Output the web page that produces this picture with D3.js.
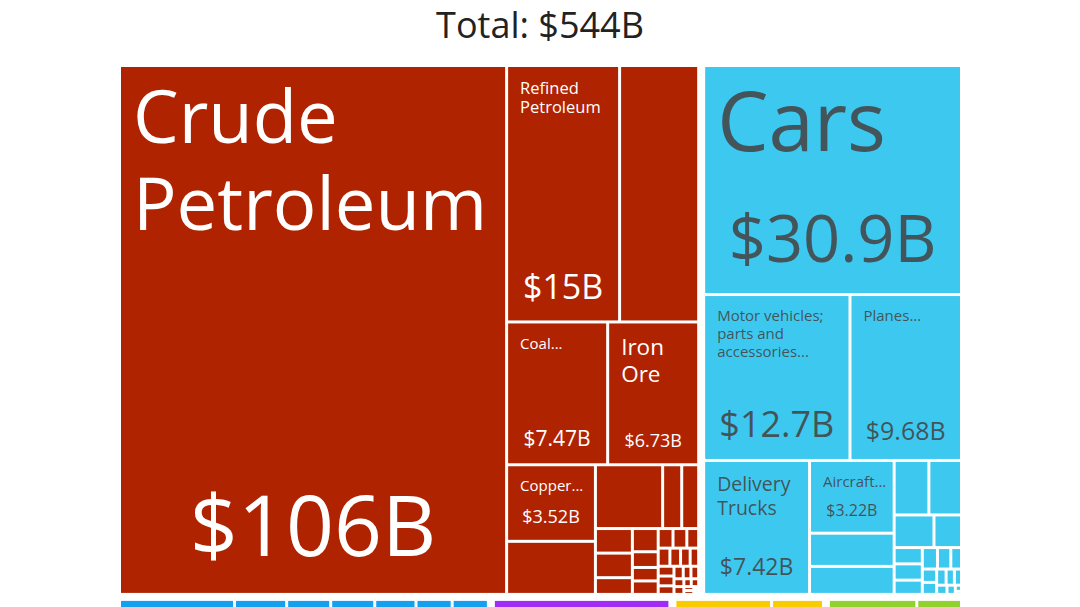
<!DOCTYPE html>
<html>
<head>
<meta charset="utf-8">
<script src="https://cdn.jsdelivr.net/npm/d3@7"></script>
<style>
html,body{margin:0;padding:0;background:#fff;overflow:hidden}
svg{display:block;font-family:"Open Sans",sans-serif}
</style>
</head>
<body>
<svg id="chart" width="1080" height="607"></svg>
<script>
// ---------------- DATA (US$ billions) ----------------
const sections = ["Mineral Products","Transportation","Machines","Metals","Wood Products",
  "Chemical Products","Precious Metals","Vegetable Products","Plastics and Rubbers","Foodstuffs",
  "Animal Products","Paper Goods","Instruments","Miscellaneous","Stone And Glass",
  "Animal and Vegetable Bi-Products","Footwear and Headwear","Textiles"];

const minerals = [
  ["Crude Petroleum",106],["Refined Petroleum",15],["Petroleum Gas",10.5],["Coal Briquettes",7.47],
  ["Iron Ore",6.73],["Copper Ore",3.52],["Zinc Ore",2.44],["Electricity",2.22],["Petroleum Coke",0.63],
  ["Molybdenum Ore",0.56],["Nickel Ore",0.47],["Uranium and Thorium Ore",0.47],["Precious Metal Ore",0.32],
  ["Lead Ore",0.31],["Salt",0.21],["Gypsum",0.18],["Sulphur",0.18],["Petroleum Jelly",0.15],["Tar Oils",0.14],
  ["Aluminium Ore",0.12],["Niobium, Tantalum, Vanadium and Zirconium Ore",0.11],["Gravel and Crushed Stone",0.1],
  ["Sand",0.09],["Asphalt Mixtures",0.08],["Clays",0.08],["Bitumen",0.08],["Cobalt Ore",0.07],
  ["Manganese Ore",0.06],["Chromium Ore",0.05],["Tungsten Ore",0.05],["Limestone",0.04],["Quartz",0.04],
  ["Mica",0.03],["Graphite",0.03],["Coke",0.02],["Peat",0.02],["Slate",0.01],["Pumice",0.01]
];
const transportation = [
  ["Cars",30.9],["Motor vehicles; parts and accessories (8701 to 8705)",12.7],
  ["Planes, Helicopters, and/or Spacecraft",9.68],["Delivery Trucks",7.42],["Aircraft Parts",3.22],
  ["Tractors",1.47],["Trailers and Semi-trailers",1.24],["Recreational Boats",0.99],["Buses",0.93],
  ["Special Purpose Motor Vehicles",0.68],["Railway Freight Cars",0.47],["Motorcycles and Cycles",0.24],
  ["Passenger and Cargo Ships",0.24],["Locomotives",0.21],["Railway Parts",0.17],["Railway Passenger Cars",0.15],
  ["Forklifts",0.12],["Bicycles",0.1],["Tug Boats",0.09],["Floating Structures",0.08],["Motorcycle Parts",0.07],
  ["Cargo Containers",0.06],["Baby Carriages",0.05],["Railway Track Fixtures",0.04],["Armoured Vehicles",0.02],
  ["Scrap Vessels",0.01]
];
const machines = [
  ["Gas Turbines",8.2],["Computers",7.7],["Broadcasting Equipment",1.86],["Telephones",1.57],
  ["Integrated Circuits",1.57],["Electric Motors",1.47],["Valves",1.29],["Liquid Pumps",1.29],
  ["Air Pumps",1.25],["Centrifuges",1.22],["Industrial Printers",1.2],["Electrical Transformers",1.18],
  ["Insulated Wire",1.15],["Electrical Control Boards",1.12],["Refrigerators",1.1],["Excavation Machinery",1.08],
  ["Harvesting Machinery",1.05],["Lifting Machinery",1.02],["Heating Machinery",1.0],["Combustion Engines",0.98],
  ["Engine Parts",0.95],["Machinery Having Individual Functions",0.92],["Office Machine Parts",0.9],
  ["Transmissions",0.88],["Electric Batteries",0.85],["Low-voltage Protection Equipment",0.82],
  ["Electrical Lighting",0.8],["Semiconductor Devices",0.78],["Video Displays",0.75],["Air Conditioners",0.72],
  ["Spark-ignition Engines",0.7],["Ball Bearings",0.68],["Washing Machines",0.65],["Microphones and Headphones",0.6],
  ["Electric Heaters",0.55],["Sewing Machines",0.5],["Calculators",0.45],["Metalworking Machines",0.2]
];
const metals = [["Raw Aluminium",14.5],["Semi-Finished Iron",6.5],["Hot-Rolled Iron",5.5],["Raw Nickel",5],
  ["Refined Copper",4.5],["Iron Pipes",3.5],["Aluminium Plating",5.5]];
const wood = [["Sawn Wood",16.5],["Plywood",9.1],["Wood Fiberboard",7],["Rough Wood",5],["Wood Carpentry",5]];
const chemicals = [["Potassic Fertilizers",15],["Packaged Medicaments",5],
  ["Vaccines, Blood, Antisera, Toxins and Cultures",3.4],["Nitrogenous Fertilizers",2.1],["Polyacetals",1.36]];
const precious = [["Gold",7.24],["Platinum",3.88],["Silver",3],["Precious Metal Scraps",2.8],
  ["Jewellery",2.5],["Diamonds",1.8],["Precious Metal Compounds",1.5]];
const vegetable = [["Wheat",5.93],["Rapeseed",3],["Dried Legumes",2.6],["Soybeans",2.5],["Barley",2.1],
  ["Oats",1.8],["Corn",1.5],["Fresh Vegetables",1.0]];
const plastics = [["Ethylene Polymers",9],["Plastic Lids",5.5],["Rubber Tires",4.5]];
const foodstuffs = [["Baked Goods",6.5],["Rapeseed Oil",6],["Animal Food",4.5]];
const animal = [["Crustaceans",7.5],["Pig Meat",4.5],["Bovine Meat",3]];
const paper = [["Sulfate Chemical Woodpulp",7.5],["Newsprint",3],["Kraft Paper",2.5]];
const instruments = [["Orthopedic Appliances",5],["Medical Instruments",3.5],["Optical Fibers",2.5]];
const misc = [["Seats",4.5],["Other Furniture",3],["Prefabricated Buildings",1.5]];
const stone = [["Glass Fibers",4.5],["Other Glass Articles",3.5]];
const biproducts = [["Soybean Oil",3.5],["Animal Fats",2.5]];
const footwear = [["Leather Footwear",2.5],["Footwear Parts",1.5]];
const textiles = [["Non-Knit Men's Suits",2],["Synthetic Fabrics",1.4]];

const sectionProducts = [minerals, transportation, machines, metals, wood, chemicals, precious, vegetable,
  plastics, foodstuffs, animal, paper, instruments, misc, stone, biproducts, footwear, textiles];

// ---------------- STYLE ----------------
const palette = ["#b02300","#3dc8f0","#12a0ef","#a8776a","#d2542d","#a02cf5","#f8cc00","#92d22e",
  "#e06fd8","#c7a82a","#f0a07d","#e8d68a","#8a1b53","#2fb06d","#e48a78","#fbe79b","#1f8a3c","#2aa34e"];

const OX = 121, OY = 67, TW = 839, TH = 1255, VIEW_H = 607;

const data = {name: "root", children: sections.map((s, i) => ({
  name: s, color: palette[i],
  children: sectionProducts[i].map(([n, v]) => ({name: n, value: v}))
}))};

const root = d3.hierarchy(data)
  .sum(d => d.value || 0)
  .sort((a, b) => b.value - a.value);

d3.treemap()
  .tile(d3.treemapSquarify)
  .size([TW, TH])
  .paddingInner(d => d.depth === 0 ? 8 : 3)(root);

const svg = d3.select("#chart");
const fmt = d3.format(".3~r");

svg.append("text")
  .attr("x", 540).attr("y", 38)
  .attr("text-anchor", "middle")
  .attr("font-size", 36)
  .attr("fill", "#222")
  .text("Total: $" + fmt(root.value) + "B");

const g = svg.append("g").attr("transform", `translate(${OX},${OY})`);

const leaves = root.leaves();
g.selectAll("rect").data(leaves).join("rect")
  .attr("x", d => d.x0).attr("y", d => d.y0)
  .attr("width", d => Math.max(0, d.x1 - d.x0))
  .attr("height", d => Math.max(0, d.y1 - d.y0))
  .attr("fill", d => d.parent.data.color);

// ---------- label fitting ----------
const ctx = document.createElement("canvas").getContext("2d");
function mw(s, f) { ctx.font = f + 'px "Open Sans"'; return ctx.measureText(s).width; }

function wrap(words, f, maxW, maxLines) {
  const lines = []; let cur = "";
  for (let i = 0; i < words.length; i++) {
    const w = words[i];
    const test = cur ? cur + " " + w : w;
    if (mw(test, f) <= maxW) { cur = test; continue; }
    if (!cur) return {lines, truncated: true};
    lines.push(cur);
    if (lines.length >= maxLines || mw(w, f) > maxW) return {lines, truncated: true};
    cur = w;
  }
  if (cur) {
    if (lines.length >= maxLines) return {lines, truncated: true};
    lines.push(cur);
  }
  return {lines, truncated: false};
}

function fitName(name, W, H) {
  const availW = W - 28, availH = H / 2 - 15;
  const words = name.split(/\s+/);
  for (let f = 90; f >= 15; f -= 0.5) {
    const maxLines = Math.floor(availH / (1.2 * f) + 1e-9);
    if (maxLines < 1) continue;
    const r = wrap(words, f, availW, maxLines);
    if (!r.truncated) return {f, lines: r.lines};
  }
  const f = 15;
  const maxLines = Math.floor(availH / (1.2 * f));
  if (maxLines < 1) return null;
  if (mw(words[0], f) > availW) return null;
  const r = wrap(words, f, availW, maxLines);
  if (!r.lines.length) return null;
  const last = r.lines.length - 1;
  r.lines[last] = r.lines[last].replace(/[,;:]+$/, "") + "...";
  return {f, lines: r.lines};
}

function brightness(hex) {
  const c = d3.rgb(hex);
  return (0.299 * c.r + 0.587 * c.g + 0.114 * c.b) / 255;
}

leaves.forEach(d => {
  const W = d.x1 - d.x0, H = d.y1 - d.y0;
  if (W < 20 || H < 20) return;
  // labels of tiles that start below the visible window are never seen
  if (OY + d.y0 + 20 > VIEW_H) return;
  const nm = fitName(d.data.name, W, H);
  if (!nm) return;
  const light = brightness(d.parent.data.color) > 0.55;
  const col = light ? "#444" : "#fff";
  const op = light ? 0.88 : 1;
  const t = g.append("text")
    .attr("font-size", nm.f)
    .attr("fill", col).attr("fill-opacity", op);
  nm.lines.forEach((ln, i) => {
    t.append("tspan")
      .attr("x", d.x0 + 12)
      .attr("y", d.y0 + 12 + 0.88 * nm.f + i * 1.2 * nm.f)
      .text(ln);
  });
  const val = "$" + fmt(d.value) + "B";
  const wEm = mw(val, 100) / 100;
  const vf = Math.floor(Math.min((W - 28) / wEm, 0.29 * H, 84));
  if (vf < 8) return;
  g.append("text")
    .attr("x", (d.x0 + d.x1) / 2)
    .attr("y", d.y1 - (11 + 0.31 * vf))
    .attr("text-anchor", "middle")
    .attr("font-size", vf)
    .attr("fill", col).attr("fill-opacity", op)
    .text(val);
});
</script>
</body>
</html>
